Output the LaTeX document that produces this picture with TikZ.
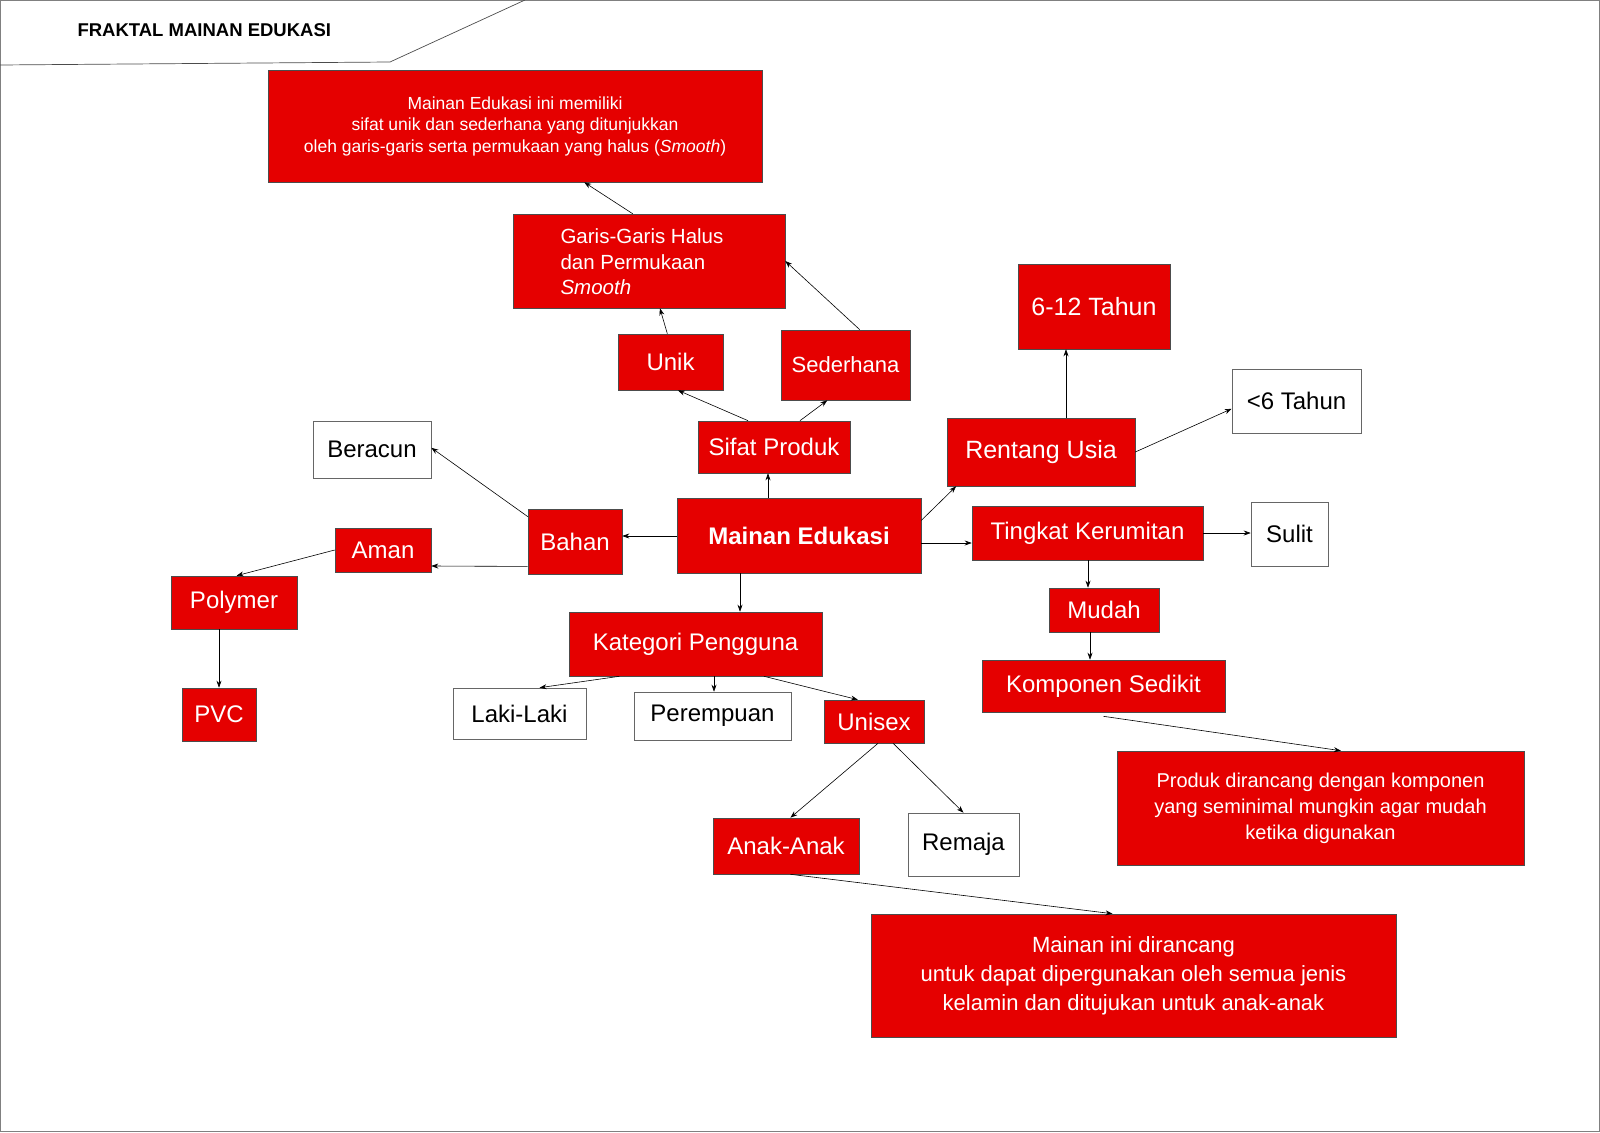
\documentclass[tikz,border=0pt]{standalone}
\usepackage{fontspec}
\setmainfont{Liberation Sans}
\usetikzlibrary{arrows.meta,calc}
\begin{document}
\begin{tikzpicture}[x=1pt,y=-1pt,
 rbox/.style={draw=black!70,line width=0.6pt,fill=red!90!black,text=white,inner sep=2pt,align=center,font=\fontsize{24}{28}\selectfont},
 wbox/.style={draw=black!60,line width=0.6pt,fill=white,text=black,inner sep=2pt,align=center,font=\fontsize{24}{28}\selectfont},
 ar/.style={-{Stealth[length=7pt,width=5pt]},line width=0.6pt,black}]
\useasboundingbox (0,0) rectangle (1600,1132);
\draw[gray,line width=1pt] (0.5,0.5) rectangle (1599.5,1131.5);
\draw[black!70,line width=0.7pt] (0,65) -- (390,62) -- (525,0);
\node[anchor=west,font=\bfseries\fontsize{18.5}{22}\selectfont] (title) at (74,30) {FRAKTAL MAINAN EDUKASI};

\node[rbox,minimum width=494,minimum height=112,font=\fontsize{17.5}{21.5}\selectfont] (box1) at (515,126) {Mainan Edukasi ini memiliki\\sifat unik dan sederhana yang ditunjukkan\\oleh garis-garis serta permukaan yang halus (\textit{Smooth})};
\node[rbox,minimum width=272,minimum height=94] (garis) at (649,261) {};
\node[anchor=west,text=white,align=left,font=\fontsize{20.5}{25.5}\selectfont] (garist) at (557,262) {Garis-Garis Halus\\dan Permukaan\\\textit{Smooth}};
\node[rbox,minimum width=105,minimum height=56] (unik) at (670.5,362) {Unik};
\node[rbox,minimum width=129,minimum height=70,font=\fontsize{22}{26}\selectfont] (sed) at (845.5,365) {Sederhana};
\node[rbox,minimum width=152,minimum height=52] (sifat) at (774,447) {Sifat Produk};
\node[rbox,minimum width=152,minimum height=85,font=\fontsize{25}{28}\selectfont] (t612) at (1094,306.5) {6-12 Tahun};
\node[wbox,minimum width=129,minimum height=64] (lt6) at (1296.5,401) {<6 Tahun};
\node[rbox,minimum width=188,minimum height=68,font=\fontsize{25}{28}\selectfont] (rentang) at (1041,452) {Rentang Usia};
\node[wbox,minimum width=118,minimum height=57] (beracun) at (372,449.5) {Beracun};
\node[rbox,minimum width=94,minimum height=65] (bahan) at (575,541.5) {Bahan};
\node[rbox,minimum width=244,minimum height=75,font=\bfseries\fontsize{24}{28}\selectfont] (main) at (799,535.5) {Mainan Edukasi};
\node[rbox,minimum width=231,minimum height=54] (tingkat) at (1087.5,533) {Tingkat Kerumitan};
\node[wbox,minimum width=77,minimum height=64] (sulit) at (1289.5,534) {Sulit};
\node[rbox,minimum width=96,minimum height=44] (aman) at (383,550) {Aman};
\node[rbox,minimum width=126,minimum height=53] (poly) at (234,602.5) {Polymer};
\node[rbox,minimum width=74,minimum height=53] (pvc) at (219,714.5) {PVC};
\node[rbox,minimum width=253,minimum height=64] (kat) at (695.5,644) {Kategori Pengguna};
\node[rbox,minimum width=110,minimum height=44] (mudah) at (1104,610) {Mudah};
\node[rbox,minimum width=243,minimum height=52] (komp) at (1103.5,686) {Komponen Sedikit};
\node[wbox,minimum width=133,minimum height=51] (laki) at (519.5,713.5) {Laki-Laki};
\node[wbox,minimum width=157,minimum height=48] (per) at (712.5,716) {Perempuan};
\node[rbox,minimum width=100,minimum height=43] (uni) at (874,721.5) {Unisex};
\node[rbox,minimum width=407,minimum height=114,font=\fontsize{20}{26}\selectfont] (prod) at (1320.5,808) {Produk dirancang dengan komponen\\yang seminimal mungkin agar mudah\\ketika digunakan};
\node[rbox,minimum width=146,minimum height=56] (anak) at (786,846) {Anak-Anak};
\node[wbox,minimum width=111,minimum height=63] (remaja) at (963.5,844.5) {Remaja};
\node[rbox,minimum width=525,minimum height=123,font=\fontsize{22}{29}\selectfont] (mini) at (1133.5,975.5) {Mainan ini dirancang\\untuk dapat dipergunakan oleh semua jenis\\kelamin dan ditujukan untuk anak-anak};

\draw[ar] ($(garis.north west)!0.44!(garis.north east)$) -- ($(box1.south west)!0.64!(box1.south east)$);
\draw[ar] ($(unik.north west)!0.47!(unik.north east)$) -- ($(garis.south west)!0.54!(garis.south east)$);
\draw[ar] ($(sed.north west)!0.61!(sed.north east)$) -- ($(garis.north east)!0.5!(garis.south east)$);
\draw[ar] ($(sifat.north west)!0.33!(sifat.north east)$) -- ($(unik.south west)!0.57!(unik.south east)$);
\draw[ar] ($(sifat.north west)!0.67!(sifat.north east)$) -- ($(sed.south west)!0.36!(sed.south east)$);
\draw[ar] (main.north -| 768,0) -- (sifat.south -| 768,0);
\draw[ar] ($(main.north east)!0.3!(main.south east)$) -- ($(rentang.south west)!0.05!(rentang.south east)$);
\draw[ar] (rentang.north -| 1066,0) -- (t612.south -| 1066,0);
\draw[ar] ($(rentang.north east)!0.5!(rentang.south east)$) -- ($(lt6.north west)!0.62!(lt6.south west)$);
\draw[ar] (main.east |- 0,543) -- (tingkat.west |- 0,543);
\draw[ar] (tingkat.east) -- (tingkat.east -| sulit.west);
\draw[ar] (tingkat.south -| 1088,0) -- (mudah.north -| 1088,0);
\draw[ar] (mudah.south -| 1090,0) -- (komp.north -| 1090,0);
\draw[ar] ($(komp.south west)!0.5!(komp.south east)$) ++(0,4) -- ($(prod.north west)!0.55!(prod.north east)$);
\draw[ar] (main.west |- 0,536) -- (bahan.east |- 0,536);
\draw[ar] ($(bahan.north west)!0.88!(bahan.south west)$) -- (aman.east |- 0,566);
\draw[ar] ($(bahan.north west)!0.12!(bahan.south west)$) -- ($(beracun.north east)!0.47!(beracun.south east)$);
\draw[ar] ($(aman.north west)!0.5!(aman.south west)$) -- ($(poly.north west)!0.52!(poly.north east)$);
\draw[ar] (poly.south -| 219,0) -- (pvc.north -| 219,0);
\draw[ar] (main.south -| 740,0) -- (kat.north -| 740,0);
\draw[ar] ($(kat.south west)!0.2!(kat.south east)$) -- ($(laki.north west)!0.65!(laki.north east)$);
\draw[ar] (kat.south -| 714,0) -- (per.north -| 714,0);
\draw[ar] ($(kat.south west)!0.77!(kat.south east)$) -- ($(uni.north west)!0.34!(uni.north east)$);
\draw[ar] ($(uni.south west)!0.54!(uni.south east)$) -- ($(anak.north west)!0.53!(anak.north east)$);
\draw[ar] ($(uni.south west)!0.69!(uni.south east)$) -- ($(remaja.north west)!0.5!(remaja.north east)$);
\draw[ar] ($(anak.south west)!0.53!(anak.south east)$) -- ($(mini.north west)!0.46!(mini.north east)$);
\end{tikzpicture}
\end{document}
